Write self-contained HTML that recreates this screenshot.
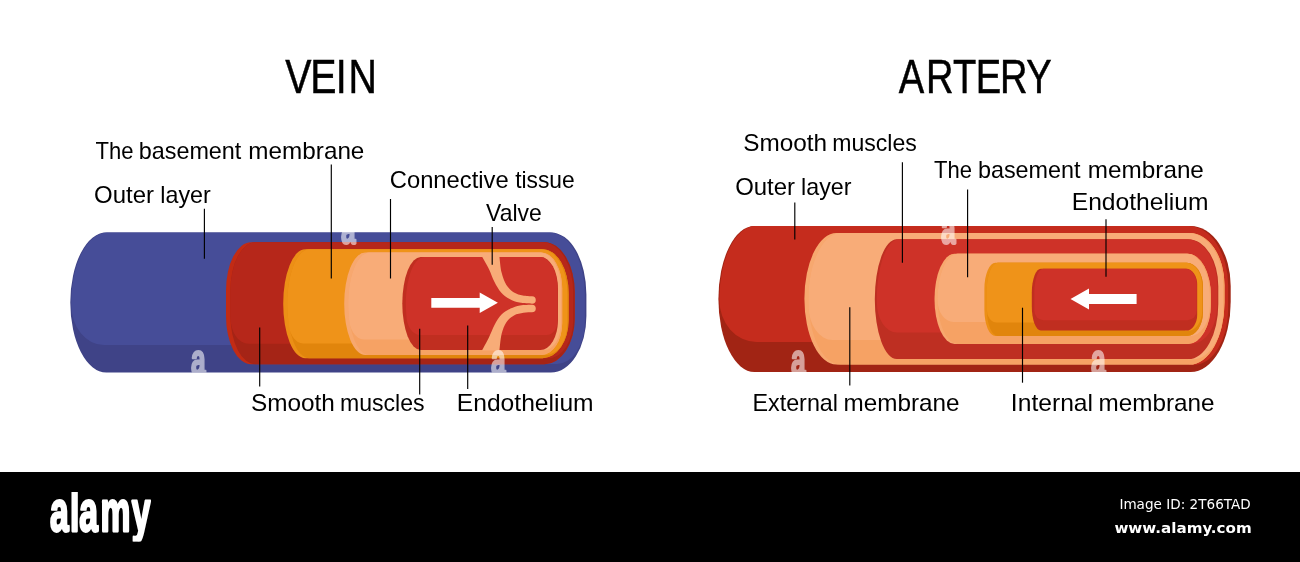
<!DOCTYPE html>
<html lang="en">
<head>
<meta charset="utf-8">
<title>Vein and Artery</title>
<style>
html,body{margin:0;padding:0;background:#fff;overflow:hidden}
svg{display:block;font-family:"Liberation Sans",sans-serif;will-change:transform}
</style>
</head>
<body>
<svg width="1300" height="562" viewBox="0 0 1300 562">
<rect width="1300" height="562" fill="#fff"/>
<defs>
<clipPath id="lg"><rect x="40" y="492" width="130" height="49.6"/></clipPath>
<clipPath id="wm"><rect x="60" y="226" width="1180" height="146.6"/></clipPath>
</defs>
<g id="vein">
<path d="M106.3,232.4 H550.9 A35.5,62 0 0 1 586.4,294.4 V316.1 A35.5,56.5 0 0 1 550.9,372.6 H106.3 A36,70.1 0 0 1 70.3,302.5 A36,70.1 0 0 1 106.3,232.4 Z" fill="#3f4387"/>
<path d="M107.3,232.4 H549.4 A35.5,62 0 0 1 584.9,294.4 V322 A28,42 0 0 1 556.9,364 H544 V345 H103.82 A32.5,40 0 0 1 71.32,305 A36,70.1 0 0 1 107.3,232.4 Z" fill="#464d98"/>
<path d="M251,242.3 H544.5 A30.2,50 0 0 1 574.7,292.3 V318.2 A30.2,46 0 0 1 544.5,364.2 H251 A25,48 0 0 1 226,316.2 V290.3 A25,48 0 0 1 251,242.3 Z" fill="#c22b14"/>
<path d="M255.5,242.3 H544.5 A30.2,50 0 0 1 574.7,292.3 V318.2 A30.2,46 0 0 1 544.5,364.2 H255.5 A25,48 0 0 1 230.5,316.2 V290.3 A25,48 0 0 1 255.5,242.3 Z" fill="#a52416"/>
<path d="M255.5,242.3 H543 A30.2,50 0 0 1 573.2,292.3 V320.3 A25,38 0 0 1 548.2,358.3 H542 V343.8 H248.5 A18,26 0 0 1 230.5,317.8 V290.3 A25,48 0 0 1 255.5,242.3 Z" fill="#b6271a"/>
<path d="M305.2,249.2 H542.6 A26,44 0 0 1 568.6,293.2 V320.2 A26,38 0 0 1 542.6,358.2 H305.2 A22,54.5 0 0 1 283.2,303.7 A22,54.5 0 0 1 305.2,249.2 Z" fill="#ec8f16"/>
<path d="M309.2,249.2 H542.6 A26,44 0 0 1 568.6,293.2 V320.2 A26,38 0 0 1 542.6,358.2 H309.2 A22,54.5 0 0 1 287.2,303.7 A22,54.5 0 0 1 309.2,249.2 Z" fill="#e1850c"/>
<path d="M309.2,249.2 H541.4 A26,44 0 0 1 567.4,293.2 V323 A21,32 0 0 1 546.4,355 H541 V343.6 H303.16 A15,24 0 0 1 288.16,319.6 A22,54.5 0 0 1 309.2,249.2 Z" fill="#ef9319"/>
<path d="M365.2,252.6 H541.4 A20.8,36 0 0 1 562.2,288.6 V322.9 A20.8,32 0 0 1 541.4,354.9 H365.2 A21,51.15 0 0 1 344.2,303.75 A21,51.15 0 0 1 365.2,252.6 Z" fill="#f7a86f"/>
<path d="M369.2,252.6 H541.4 A20.8,36 0 0 1 562.2,288.6 V322.9 A20.8,32 0 0 1 541.4,354.9 H369.2 A21,51.15 0 0 1 348.2,303.75 A21,51.15 0 0 1 369.2,252.6 Z" fill="#f6a264"/>
<path d="M369.2,252.6 H540.4 A20.8,36 0 0 1 561.2,288.6 V322.1 A17,28 0 0 1 544.2,350.1 H539 V339.5 H363.76 A15,24 0 0 1 348.76,315.5 A21,51.15 0 0 1 369.2,252.6 Z" fill="#f8ac78"/>
<path d="M420.7,257 H540.5 A17.5,32 0 0 1 558,289 V320 A17.5,30 0 0 1 540.5,350 H420.7 A18.4,46.5 0 0 1 402.3,303.5 A18.4,46.5 0 0 1 420.7,257 Z" fill="#c02e20"/>
<path d="M424.2,257 H540 A17.5,32 0 0 1 557.5,289 V321 A11,14 0 0 1 546.5,335 H420.37 A14,20 0 0 1 406.37,315 A18.4,46.5 0 0 1 424.2,257 Z" fill="#ce3228"/>
<path d="M482,256.4 C483.15,258.48 486.82,264.62 488.9,268.9 C490.98,273.18 492.47,278.17 494.5,282.1 C496.53,286.03 498.58,289.68 501.1,292.5 C503.62,295.32 506.53,297.32 509.6,299 C512.67,300.68 515.77,301.8 519.5,302.6 C523.23,303.4 529.92,303.6 532,303.8 A3.8,3.8 0 0 0 532,296.2 C530.47,296.07 525.8,296.03 522.8,295.4 C519.8,294.77 516.73,294.13 514,292.4 C511.27,290.67 508.47,288.3 506.4,285 C504.33,281.7 502.77,277.37 501.6,272.6 C500.43,267.83 499.77,259.1 499.4,256.4 Z" fill="#f8ac78"/>
<path d="M482,350.6 C483.15,348.43 486.82,341.87 488.9,337.6 C490.98,333.33 492.4,328.83 494.5,325 C496.6,321.17 498.83,317.33 501.5,314.6 C504.17,311.87 507.42,310.13 510.5,308.6 C513.58,307.07 516.42,306.05 520,305.4 C523.58,304.75 530,304.82 532,304.7 A3.8,3.8 0 0 1 532,312.3 C530.58,312.38 526.5,312.28 523.5,312.8 C520.5,313.32 516.85,313.83 514,315.4 C511.15,316.97 508.47,319.1 506.4,322.2 C504.33,325.3 502.77,329.27 501.6,334 C500.43,338.73 499.77,347.83 499.4,350.6 Z" fill="#f8ac78"/>
<path d="M431.3,297.9 H479.7 V292.4 L497.9,302.7 L479.7,313 V307.7 H431.3 Z" fill="#fff"/>
</g>
<g id="artery">
<path d="M754.4,226 H1190.7 A40,60 0 0 1 1230.7,286 V302 A40,70 0 0 1 1190.7,372 H754.4 A36,73 0 0 1 718.4,299 A36,73 0 0 1 754.4,226 Z" fill="#a12414"/>
<path d="M755.4,226 H1188.2 A40,60 0 0 1 1228.2,286 V308.7 A34,56 0 0 1 1194.2,364.7 H1189 V342 H756.4 A37,42 0 0 1 719.4,300 A36,73 0 0 1 755.4,226 Z" fill="#c52c1d"/>
<path d="M836.4,233 H1189.5 A35,52 0 0 1 1224.5,285 V302.6 A35,62 0 0 1 1189.5,364.6 H836.4 A32,65.8 0 0 1 804.4,298.8 A32,65.8 0 0 1 836.4,233 Z" fill="#f7a86f"/>
<path d="M840.4,233 H1189.5 A35,52 0 0 1 1224.5,285 V302.6 A35,62 0 0 1 1189.5,364.6 H840.4 A32,65.8 0 0 1 808.4,298.8 A32,65.8 0 0 1 840.4,233 Z" fill="#f6a264"/>
<path d="M840.4,233 H1188.3 A35,52 0 0 1 1223.3,285 V309.2 A30,50 0 0 1 1193.3,359.2 H1188 V340 H832.59 A24,34 0 0 1 808.59,306 A32,65.8 0 0 1 840.4,233 Z" fill="#f8ac78"/>
<path d="M896.8,239.2 H1188.3 A30,47 0 0 1 1218.3,286.2 V304.1 A30,55 0 0 1 1188.3,359.1 H896.8 A22,59.95 0 0 1 874.8,299.15 A22,59.95 0 0 1 896.8,239.2 Z" fill="#be2f22"/>
<path d="M898.8,239.2 H1187.3 A30,47 0 0 1 1217.3,286.2 V304.1 A26,40 0 0 1 1191.3,344.1 H1187 V332.5 H896.83 A20,30 0 0 1 876.83,302.5 A22,59.95 0 0 1 898.8,239.2 Z" fill="#ce3228"/>
<path d="M954.5,253.8 H1187.9 A23,42 0 0 1 1210.9,295.8 V304 A23,40 0 0 1 1187.9,344 H954.5 A20,45.1 0 0 1 934.5,298.9 A20,45.1 0 0 1 954.5,253.8 Z" fill="#f7a86f"/>
<path d="M957.5,253.8 H1187.9 A23,42 0 0 1 1210.9,295.8 V304 A23,40 0 0 1 1187.9,344 H957.5 A20,45.1 0 0 1 937.5,298.9 A20,45.1 0 0 1 957.5,253.8 Z" fill="#f6a264"/>
<path d="M957.5,253.8 H1186.9 A23,42 0 0 1 1209.9,295.8 V306.1 A20,30 0 0 1 1189.9,336.1 H1186 V322 H953.51 A16,22 0 0 1 937.51,300 A20,45.1 0 0 1 957.5,253.8 Z" fill="#f8ac78"/>
<path d="M995.4,262.8 H1187 A16,24 0 0 1 1203,286.8 V312 A16,24 0 0 1 1187,336 H995.4 A11,26 0 0 1 984.4,310 V288.8 A11,26 0 0 1 995.4,262.8 Z" fill="#ec8f16"/>
<path d="M997.9,262.8 H1187 A16,24 0 0 1 1203,286.8 V312 A16,24 0 0 1 1187,336 H997.9 A11,26 0 0 1 986.9,310 V288.8 A11,26 0 0 1 997.9,262.8 Z" fill="#e1850c"/>
<path d="M997.9,262.8 H1186.2 A16,24 0 0 1 1202.2,286.8 V310.7 A14,20 0 0 1 1188.2,330.7 H1185 V322.6 H996.9 A10,12 0 0 1 986.9,310.6 V288.8 A11,26 0 0 1 997.9,262.8 Z" fill="#ef9319"/>
<path d="M1040.8,268.7 H1186.2 A11,16 0 0 1 1197.2,284.7 V314.6 A11,16 0 0 1 1186.2,330.6 H1040.8 A9,24 0 0 1 1031.8,306.6 V292.7 A9,24 0 0 1 1040.8,268.7 Z" fill="#c02e20"/>
<path d="M1043.3,268.7 H1185.7 A11,16 0 0 1 1196.7,284.7 V310.3 A9,10 0 0 1 1187.7,320.3 H1043.3 A9,10 0 0 1 1034.3,310.3 V292.7 A9,24 0 0 1 1043.3,268.7 Z" fill="#ce3228"/>
<path d="M1136.6,294 H1089 V288.5 L1070.5,299 L1089,309.5 V304 H1136.6 Z" fill="#fff"/>
</g>
<g stroke="#000" stroke-width="1.15">
<line x1="204.4" y1="208.8" x2="204.4" y2="258.8"/>
<line x1="331.3" y1="164.5" x2="331.3" y2="278.5"/>
<line x1="390.5" y1="199" x2="390.5" y2="278.5"/>
<line x1="492.2" y1="227" x2="492.2" y2="264.7"/>
<line x1="259.7" y1="327.6" x2="259.7" y2="386.4"/>
<line x1="419.7" y1="328.8" x2="419.7" y2="394.5"/>
<line x1="467.7" y1="325.6" x2="467.7" y2="389"/>
<line x1="794.8" y1="202.6" x2="794.8" y2="239.5"/>
<line x1="902.4" y1="162.3" x2="902.4" y2="262.8"/>
<line x1="967.6" y1="189.4" x2="967.6" y2="277.3"/>
<line x1="1106" y1="219.2" x2="1106" y2="276.8"/>
<line x1="849.8" y1="307.2" x2="849.8" y2="385.6"/>
<line x1="1022.5" y1="307.7" x2="1022.5" y2="382.7"/>
</g>
<g fill="#fff" stroke="#fff" stroke-width="1.8" stroke-linejoin="round" font-weight="bold" font-size="45" clip-path="url(#wm)">
<text transform="translate(191.1,375.2) scale(0.585,1)" x="0" y="0" opacity="0.57" vector-effect="non-scaling-stroke">a</text>
<text transform="translate(341.1,244.4) scale(0.585,1)" x="0" y="0" opacity="0.57" vector-effect="non-scaling-stroke">a</text>
<text transform="translate(491.1,375.2) scale(0.585,1)" x="0" y="0" opacity="0.57" vector-effect="non-scaling-stroke">a</text>
<text transform="translate(791.1,375.2) scale(0.585,1)" x="0" y="0" opacity="0.57" vector-effect="non-scaling-stroke">a</text>
<text transform="translate(941.1,244.4) scale(0.585,1)" x="0" y="0" opacity="0.57" vector-effect="non-scaling-stroke">a</text>
<text transform="translate(1091.1,375.2) scale(0.585,1)" x="0" y="0" opacity="0.57" vector-effect="non-scaling-stroke">a</text>
</g>
<g fill="#000" font-size="24">
<text y="159"><tspan x="95.54" textLength="37.98" lengthAdjust="spacingAndGlyphs">The</tspan> <tspan x="138.74" textLength="102.61" lengthAdjust="spacingAndGlyphs">basement</tspan> <tspan x="248.38" textLength="116" lengthAdjust="spacingAndGlyphs">membrane</tspan></text>
<text y="202.5"><tspan x="94.05" textLength="59.93" lengthAdjust="spacingAndGlyphs">Outer</tspan> <tspan x="160.34" textLength="50.47" lengthAdjust="spacingAndGlyphs">layer</tspan></text>
<text y="187.6"><tspan x="389.76" textLength="118.91" lengthAdjust="spacingAndGlyphs">Connective</tspan> <tspan x="515.16" textLength="59.54" lengthAdjust="spacingAndGlyphs">tissue</tspan></text>
<text y="221.1"><tspan x="486.06" textLength="55.71" lengthAdjust="spacingAndGlyphs">Valve</tspan></text>
<text y="411.1"><tspan x="250.93" textLength="83.86" lengthAdjust="spacingAndGlyphs">Smooth</tspan> <tspan x="339.96" textLength="84.63" lengthAdjust="spacingAndGlyphs">muscles</tspan></text>
<text y="411.1"><tspan x="456.85" textLength="136.76" lengthAdjust="spacingAndGlyphs">Endothelium</tspan></text>
<text y="151.3"><tspan x="743.23" textLength="83.86" lengthAdjust="spacingAndGlyphs">Smooth</tspan> <tspan x="832.26" textLength="84.63" lengthAdjust="spacingAndGlyphs">muscles</tspan></text>
<text y="194.5"><tspan x="735.15" textLength="59.93" lengthAdjust="spacingAndGlyphs">Outer</tspan> <tspan x="801.04" textLength="50.47" lengthAdjust="spacingAndGlyphs">layer</tspan></text>
<text y="177.6"><tspan x="933.94" textLength="37.98" lengthAdjust="spacingAndGlyphs">The</tspan> <tspan x="977.94" textLength="102.61" lengthAdjust="spacingAndGlyphs">basement</tspan> <tspan x="1087.88" textLength="116" lengthAdjust="spacingAndGlyphs">membrane</tspan></text>
<text y="210.2"><tspan x="1071.75" textLength="136.76" lengthAdjust="spacingAndGlyphs">Endothelium</tspan></text>
<text y="411.1"><tspan x="752.46" textLength="85.55" lengthAdjust="spacingAndGlyphs">External</tspan> <tspan x="843.58" textLength="116" lengthAdjust="spacingAndGlyphs">membrane</tspan></text>
<text y="411.1"><tspan x="1010.89" textLength="82.11" lengthAdjust="spacingAndGlyphs">Internal</tspan> <tspan x="1098.48" textLength="116" lengthAdjust="spacingAndGlyphs">membrane</tspan></text>
</g>
<g fill="#000">
<text transform="translate(0,92.6) scale(0.833,1)" x="342.39 372.36 402.96 418.44" y="0" font-size="47.2" stroke="#000" stroke-width="0.5">VEIN</text>
<text transform="translate(0,92.6) scale(0.8083,1)" x="1111.9 1145.72 1179.16 1207.09 1237.27 1269.52" y="0" font-size="47.2" stroke="#000" stroke-width="0.5">ARTERY</text>
</g>
<rect x="0" y="472" width="1300" height="90" fill="#000"/>
<g clip-path="url(#lg)"><text transform="translate(0,530.6) scale(0.585,1)" x="85.3 119.6 135.5 171.6 225.4" y="0" font-size="57.5" font-weight="bold" fill="#fff" stroke="#fff" stroke-width="2.3" stroke-linejoin="round" vector-effect="non-scaling-stroke">alamy</text></g>
<g fill="#fff" font-family="'DejaVu Sans','Liberation Sans',sans-serif">
<text x="1119.4" y="509" font-size="13.4" textLength="131.4" lengthAdjust="spacingAndGlyphs">Image ID: 2T66TAD</text>
<text x="1114.4" y="532.7" font-size="14" font-weight="bold" textLength="137.3" lengthAdjust="spacingAndGlyphs">www.alamy.com</text>
</g>
</svg>
</body>
</html>
